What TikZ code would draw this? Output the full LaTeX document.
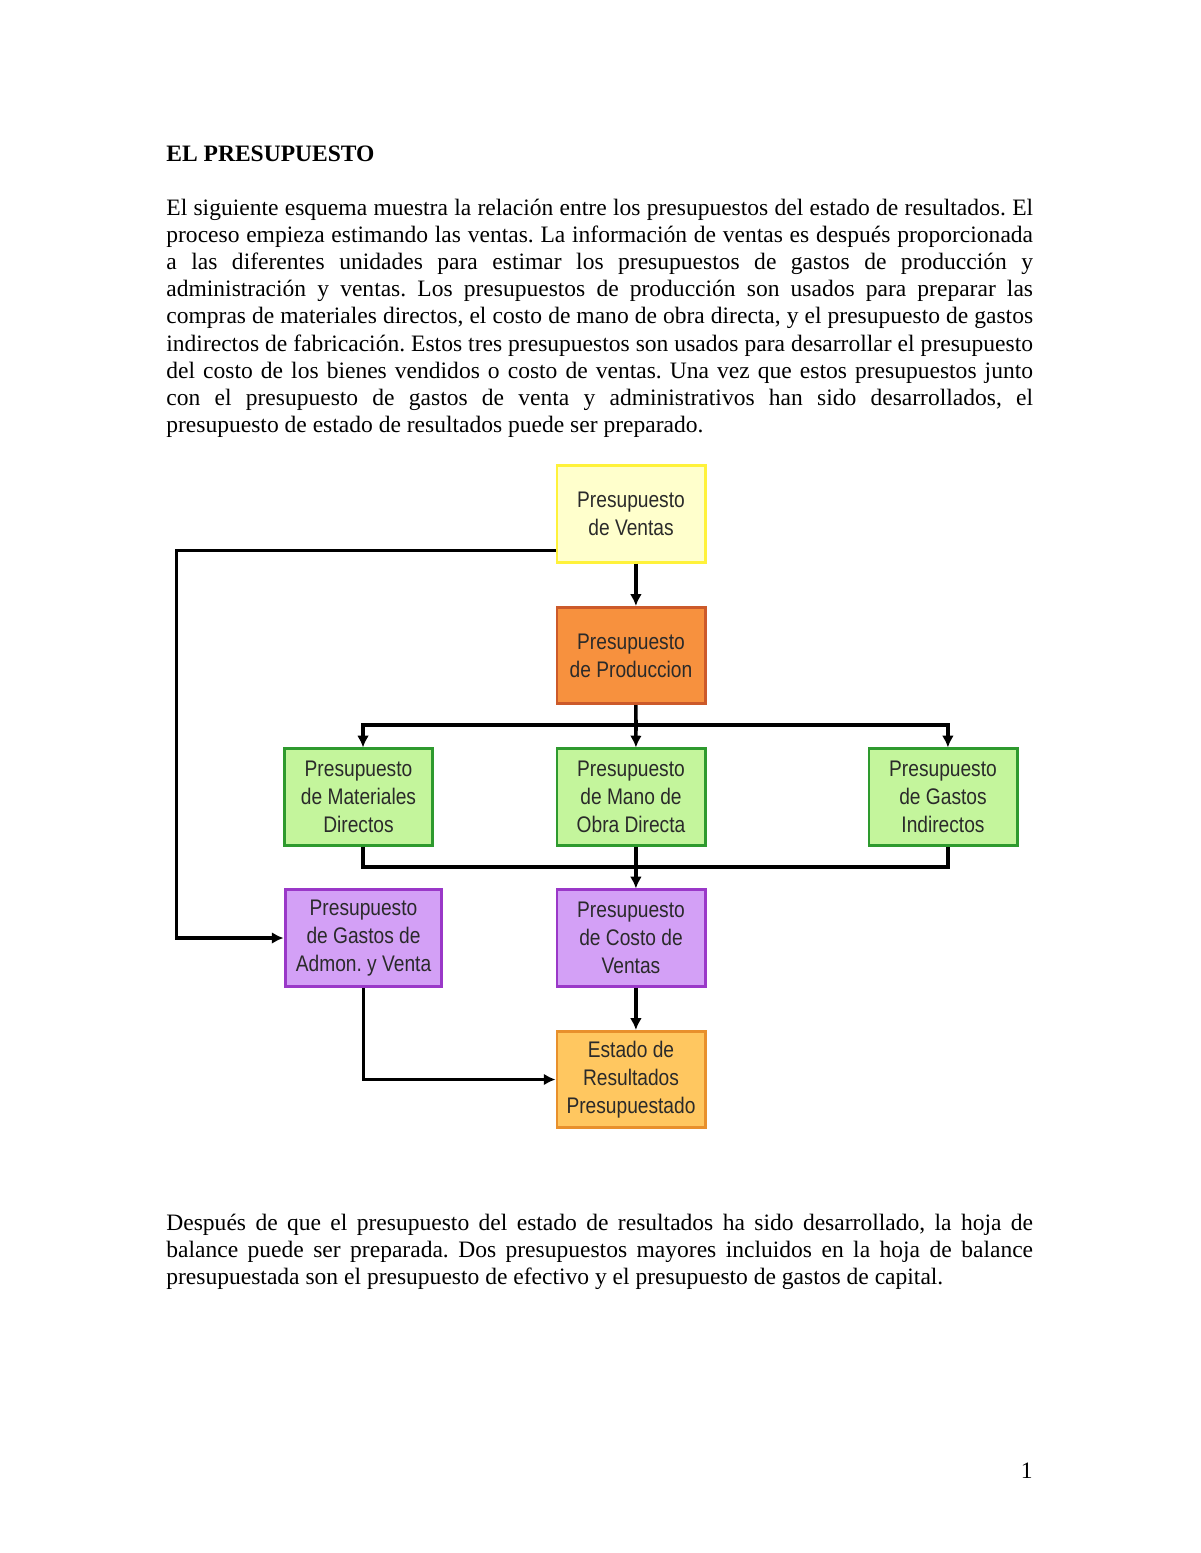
\documentclass[tikz,border=0pt]{standalone}
\usepackage{fontspec}
\setmainfont{Liberation Serif}
\newfontfamily\boxfont[FakeStretch=0.85]{Liberation Sans}
\usepackage{xcolor}
\usepackage{tikz}
\usetikzlibrary{arrows.meta,positioning}

\definecolor{ventasfill}{HTML}{FFFFCC}
\definecolor{ventasline}{HTML}{FFF23A}
\definecolor{prodfill}{HTML}{F7913E}
\definecolor{prodline}{HTML}{CC5A2A}
\definecolor{greenfill}{HTML}{C4F59C}
\definecolor{greenline}{HTML}{2E9A2E}
\definecolor{purplefill}{HTML}{D3A0F6}
\definecolor{purpleline}{HTML}{9A38C8}
\definecolor{estadofill}{HTML}{FFC760}
\definecolor{estadoline}{HTML}{E8902C}
\definecolor{boxtext}{HTML}{2A2A2A}

\newcommand{\fullline}[1]{\hbox to 442pt{#1}}
\frenchspacing

\begin{document}
\begin{tikzpicture}[
        x=0.51pt,y=-0.51pt,
        >={Latex[length=6pt,width=6pt]},
        font=\fontsize{12}{13.8}\selectfont,
        box/.style={rectangle,draw,line width=1.5pt,minimum width=75.5pt,minimum height=49pt,inner sep=0pt,align=center,text=boxtext,font=\boxfont\fontsize{11.5}{14.3}\selectfont},
        ventasbox/.style={box,fill=ventasfill,draw=ventasline},
        prodbox/.style={box,fill=prodfill,draw=prodline},
        greenbox/.style={box,fill=greenfill,draw=greenline},
        purplebox/.style={box,fill=purplefill,draw=purpleline},
        estadobox/.style={box,fill=estadofill,draw=estadoline},
        line/.style={line width=1.8pt},
        arrow/.style={->,line width=1.8pt}
    ]
        \useasboundingbox[fill=white] (0,0) rectangle (1200,1553);

        % texto de la pagina
        \node[anchor=base west,inner sep=0pt] (title) at (166,162) {\bfseries EL PRESUPUESTO};
        \node[anchor=north west,inner sep=0pt,align=left] (intro) at (166,199) {%
            \fullline{El siguiente esquema muestra la relación entre los presupuestos del estado de resultados. El}\\
            \fullline{proceso empieza estimando las ventas. La información de ventas es después proporcionada}\\
            \fullline{a las diferentes unidades para estimar los presupuestos de gastos de producción y}\\
            \fullline{administración y ventas. Los presupuestos de producción son usados para preparar las}\\
            \fullline{compras de materiales directos, el costo de mano de obra directa, y el presupuesto de gastos}\\
            \fullline{indirectos de fabricación. Estos tres presupuestos son usados para desarrollar el presupuesto}\\
            \fullline{del costo de los bienes vendidos o costo de ventas. Una vez que estos presupuestos junto}\\
            \fullline{con el presupuesto de gastos de venta y administrativos han sido desarrollados, el}\\
            presupuesto de estado de resultados puede ser preparado.};

        % esquema
        \node[ventasbox] (ventas) at (631,514) {Presupuesto\\de Ventas};
        \node[prodbox] (prod) at (631,655.5) {Presupuesto\\de Produccion};
        \node[greenbox] (mat) at (358.5,797) {Presupuesto\\de Materiales\\Directos};
        \node[greenbox] (mano) at (631,797) {Presupuesto\\de Mano de\\Obra Directa};
        \node[greenbox] (ind) at (943,797) {Presupuesto\\de Gastos\\Indirectos};
        \node[purplebox,minimum width=80pt] (admon) at (363.5,938) {Presupuesto\\de Gastos de\\Admon. y Venta};
        \node[purplebox] (costo) at (631,938) {Presupuesto\\de Costo de\\Ventas};
        \node[estadobox] (estado) at (631,1079.5) {Estado de\\Resultados\\Presupuestado};

        \coordinate (busprod) at (636,725);
        \coordinate (busdir) at (636,867);

        \draw[arrow] ([xshift=2.5pt]ventas.south) -- ([xshift=2.5pt]prod.north);
        \draw[line] ([xshift=2.5pt]prod.south) -- (busprod);
        \draw[arrow] (busprod) -- ([xshift=2.5pt]mano.north);
        \draw[arrow] (busprod) -| ([xshift=2.3pt]mat.north);
        \draw[arrow] (busprod) -| ([xshift=2.5pt]ind.north);
        \draw[line] ([xshift=2.3pt]mat.south) |- (busdir) -| ([xshift=2.5pt]ind.south);
        \draw[arrow] ([xshift=2.5pt]mano.south) -- ([xshift=2.5pt]costo.north);
        \draw[arrow] ([yshift=6.6pt]ventas.south west) -- ++(-379,0) |- (admon.west);
        \draw[arrow] (admon.south) |- (estado.west);
        \draw[arrow] ([xshift=2.5pt]costo.south) -- ([xshift=2.5pt]estado.north);

        % texto final
        \node[anchor=north west,inner sep=0pt,align=left] (outro) at (166,1214) {%
            \fullline{Después de que el presupuesto del estado de resultados ha sido desarrollado, la hoja de}\\
            \fullline{balance puede ser preparada. Dos presupuestos mayores incluidos en la hoja de balance}\\
            presupuestada son el presupuesto de efectivo y el presupuesto de gastos de capital.};
        \node[anchor=base east,inner sep=0pt] (pagenum) at (1033,1478) {1};
    \end{tikzpicture}
\end{document}
